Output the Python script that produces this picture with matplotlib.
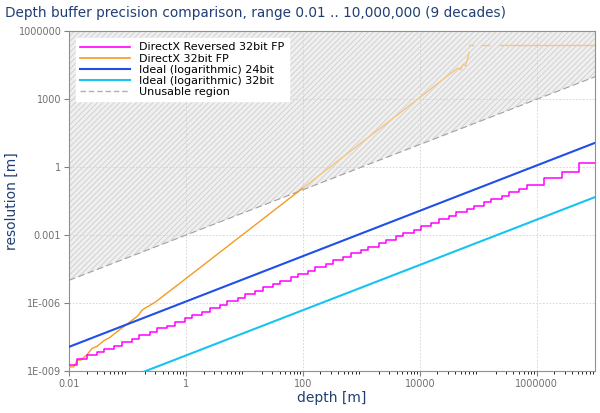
import matplotlib
matplotlib.use("Agg")
import matplotlib.pyplot as plt
import numpy as np

# Ideal curves (read endpoints)
ideal_x = [0.01, 1e7]
ideal24_y = [1.15e-8, 12.0]
ideal32_y = [4.8e-11, 0.048]
unusable_x = [0.01, 1e7]
unusable_y = [1.0e-5, 1.0e4]

# DirectX 32bit FP (standard) - below unusable line
dx_x = [0.01, 0.012, 0.014, 0.016, 0.02, 0.025, 0.03, 0.04, 0.05, 0.07, 0.1, 0.15, 0.18, 0.3, 1, 10, 100]
dx_y = [1.5e-9, 1.5e-9, 3e-9, 3e-9, 5e-9, 1e-8, 1.2e-8, 2.2e-8, 3e-8, 6e-8, 1.2e-7, 2.7e-7, 5e-7, 1.1e-6, 1.2e-5, 1.2e-3, 0.12]
# DirectX 32bit FP - inside unusable region
dx2_x = [100, 1000, 10000, 30000, 45000, 50000, 55000, 60000, 65000, 70000]
dx2_y = [0.12, 12, 1200, 1.1e4, 2.4e4, 2.0e4, 3.5e4, 3.0e4, 5.5e4, 1.2e5]
dx_flat_segments = [(70000, 82000, 2.5e5), (110000, 150000, 2.5e5), (240000, 1e7, 2.5e5)]

# DirectX Reversed 32bit FP (staircase)
rev_x = [0.01, 0.0135, 0.02, 0.03, 0.04, 0.06, 0.08, 0.12, 0.16, 0.24, 0.32, 0.48, 0.64, 0.96, 1.28, 1.9, 2.56, 3.8, 5.12, 7.7,
         10.24, 15.4, 20.5, 31, 41, 62, 82, 123, 164, 246, 328, 490, 655, 980, 1310, 1970,
         2620, 3930, 5240, 7860, 10500, 15700, 21000, 31500, 42000, 63000, 84000, 126000, 168000, 250000, 336000, 500000,
         671000, 1000000, 1340000, 2000000, 2680000, 4000000, 5370000, 1e7]
rev_y = [1.8e-9, 3.5e-9, 4.8e-9, 6.5e-9, 9.5e-9, 1.3e-8, 1.9e-8, 2.6e-8, 3.8e-8, 5.2e-8, 7.6e-8, 1.0e-7, 1.5e-7, 2.1e-7,
         3.0e-7, 4.2e-7, 6.1e-7, 8.4e-7, 1.2e-6, 1.7e-6, 2.4e-6, 3.4e-6, 4.9e-6, 6.7e-6, 9.8e-6, 1.35e-5,
         2.0e-5, 2.7e-5, 3.9e-5, 5.4e-5, 7.8e-5, 1.1e-4, 1.6e-4, 2.2e-4, 3.1e-4, 4.3e-4, 6.2e-4, 8.7e-4,
         1.25e-3, 1.7e-3, 2.5e-3, 3.5e-3, 5.0e-3, 7.0e-3, 1.0e-2, 1.4e-2, 2.0e-2, 2.8e-2, 4.0e-2, 5.6e-2,
         8.0e-2, 0.11, 0.16, 0.16, 0.32, 0.32, 0.64, 0.64, 1.6, 1.6]

title = "Depth buffer precision comparison, range 0.01 .. 10,000,000 (9 decades)"
ytick_vals = [1e-9, 1e-6, 1e-3, 1, 1e3, 1e6]
ytick_labels = ["1E-009", "1E-006", "0.001", "1", "1000", "1000000"]
xtick_vals = [0.01, 1, 100, 1e4, 1e6]
xtick_labels = ["0.01", "1", "100", "10000", "1000000"]

navy = "#1f3f73"
fig = plt.figure(figsize=(6.0, 4.13), dpi=100)
ax = fig.add_axes([0.115, 0.102, 0.877, 0.822])
ax.set_xscale("log")
ax.set_yscale("log")
ax.set_xlim(0.01, 1e7)
ax.set_ylim(1e-9, 1e6)

plt.rcParams['hatch.color'] = '#c8c8c8'
plt.rcParams['hatch.linewidth'] = 0.5
ax.fill_between(unusable_x, unusable_y, [1e6, 1e6], facecolor="#efefef", edgecolor="#c8c8c8",
                hatch="//////", linewidth=0, zorder=1)
ax.plot(unusable_x, unusable_y, color="#a0a0a0", ls=(0, (6, 3)), lw=0.8, zorder=2)

ax.plot(ideal_x, ideal24_y, color="#1f4fe8", lw=1.5, zorder=4)
ax.plot(ideal_x, ideal32_y, color="#19c3f0", lw=1.5, zorder=4)
ax.plot(rev_x, rev_y, color="#ff00ff", lw=1.1, drawstyle="steps-post", zorder=5)
ax.plot(dx_x, dx_y, color="#f59a23", lw=1.0, zorder=3)
ax.plot(dx2_x, dx2_y, color="#f5c680", lw=1.0, zorder=3)
for a, b, v in dx_flat_segments:
    ax.plot([a, b], [v, v], color="#f5c680", lw=1.0, zorder=3)

from matplotlib.lines import Line2D
handles = [Line2D([], [], color="#ff00ff", lw=1.2), Line2D([], [], color="#f59a23", lw=1.2),
           Line2D([], [], color="#1f4fe8", lw=1.5), Line2D([], [], color="#19c3f0", lw=1.5),
           Line2D([], [], color="#b0b0b0", ls=(0, (4, 2)), lw=1.0)]
labels = ["DirectX Reversed 32bit FP", "DirectX 32bit FP", "Ideal (logarithmic) 24bit",
          "Ideal (logarithmic) 32bit", "Unusable region"]
leg = ax.legend(handles, labels, loc="upper left", fontsize=8, frameon=True, fancybox=False,
                framealpha=1, edgecolor="white", handlelength=4.5, labelspacing=0.1,
                borderaxespad=0.6)
leg.set_zorder(10)

ax.set_yticks(ytick_vals)
ax.set_yticklabels(ytick_labels)
ax.set_xticks(xtick_vals)
ax.set_xticklabels(xtick_labels)
ax.yaxis.set_minor_locator(matplotlib.ticker.NullLocator())
ax.tick_params(labelsize=7, colors="#808080", labelcolor="#707070", pad=2)
ax.grid(True, which="major", color="#d0d0d0", ls=(0, (2, 2)), lw=0.6)
for s in ax.spines.values():
    s.set_color("#909090")
ax.set_xlabel("depth [m]", color=navy, fontsize=10, labelpad=2)
ax.set_ylabel("resolution [m]", color=navy, fontsize=10, labelpad=1)
ax.yaxis.set_label_coords(-0.095, 0.5)
fig.text(0.008, 0.985, title, color=navy, fontsize=9.8, ha="left", va="top")
fig.savefig("out.png", dpi=100)
